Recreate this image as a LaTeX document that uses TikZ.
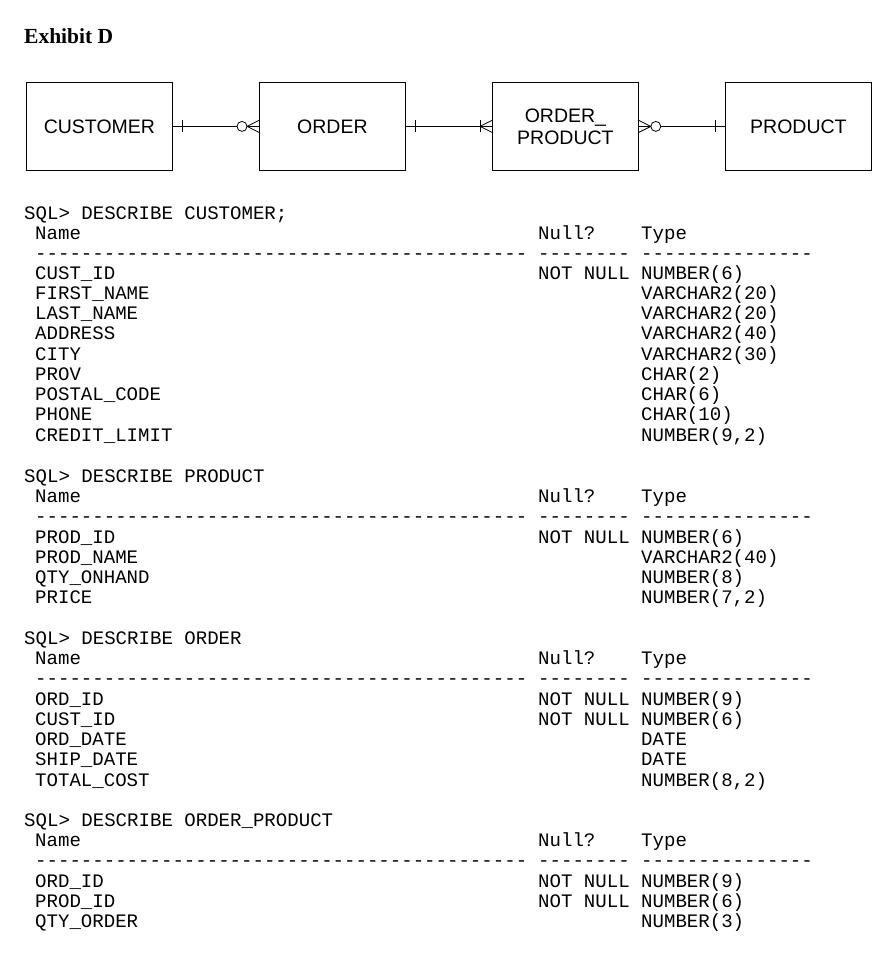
\documentclass[tikz,border=0pt]{standalone}
\usepackage{fontspec}
\setmainfont{Liberation Serif}
\setsansfont{Liberation Sans}
\setmonofont{Liberation Mono}
\begin{document}
\begin{tikzpicture}[x=1pt,y=-1pt,
  ent/.style={draw,line width=0.8pt,minimum width=146pt,minimum height=88pt,anchor=north west,font=\sffamily\fontsize{19.5}{22}\selectfont,align=center},
  txt/.style={anchor=base west,inner sep=0pt,font=\ttfamily\fontsize{19.07}{20}\selectfont},
  rel/.style={line width=0.8pt}]
\useasboundingbox (0,0) rectangle (877,953);
\node[anchor=base west,inner sep=0pt,font=\bfseries\fontsize{21.5}{24}\selectfont] (title) at (24,43) {Exhibit D};
\node[ent] (cu) at (26,82) {CUSTOMER};
\node[ent] (or) at (259,82) {ORDER};
\node[ent] (op) at (492,82) {ORDER\_\\PRODUCT};
\node[ent] (pr) at (725,82) {PRODUCT};
% CUSTOMER - ORDER
\draw[rel] (cu.east) -- ([xshift=-22pt]or.west);
\draw[rel] ([xshift=10pt,yshift=-6pt]cu.east) -- ([xshift=10pt,yshift=6pt]cu.east);
\draw[rel] ([xshift=-17pt]or.west) circle (5pt);
\draw[rel] ([xshift=-12pt]or.west) -- (or.west);
\draw[rel] ([xshift=-12pt]or.west) -- ([yshift=-6pt]or.west) ([xshift=-12pt]or.west) -- ([yshift=6pt]or.west);
% ORDER - ORDER_PRODUCT
\draw[rel] (or.east) -- (op.west);
\draw[rel] ([xshift=10pt,yshift=-6pt]or.east) -- ([xshift=10pt,yshift=6pt]or.east);
\draw[rel] ([xshift=-12pt,yshift=-6pt]op.west) -- ([xshift=-12pt,yshift=6pt]op.west);
\draw[rel] ([xshift=-12pt]op.west) -- ([yshift=-6pt]op.west) ([xshift=-12pt]op.west) -- ([yshift=6pt]op.west);
% ORDER_PRODUCT - PRODUCT
\draw[rel] ([xshift=22pt]op.east) -- (pr.west);
\draw[rel] (op.east) -- ([xshift=12pt]op.east);
\draw[rel] ([xshift=17pt]op.east) circle (5pt);
\draw[rel] ([xshift=12pt]op.east) -- ([yshift=-6pt]op.east) ([xshift=12pt]op.east) -- ([yshift=6pt]op.east);
\draw[rel] ([xshift=-10pt,yshift=-6pt]pr.west) -- ([xshift=-10pt,yshift=6pt]pr.west);
% text blocks
\def\hdr#1#2{%
  \node[txt] at (24,#1) {SQL> DESCRIBE #2};
  \node[txt] at (35,#1+20.25) {Name};
  \node[txt] at (538,#1+20.25) {Null?};
  \node[txt] at (641,#1+20.25) {Type};
  \node[txt] at (35,#1+40.5) {-------------------------------------------};
  \node[txt] at (538,#1+40.5) {--------};
  \node[txt] at (641,#1+40.5) {---------------};}
\def\row#1#2#3#4{%
  \node[txt] at (35,#1) {#2};
  \node[txt] at (538,#1) {#3};
  \node[txt] at (641,#1) {#4};}
\hdr{219}{CUSTOMER;}
\row{279}{CUST\_ID}{NOT NULL}{NUMBER(6)}
\row{299.25}{FIRST\_NAME}{}{VARCHAR2(20)}
\row{319.5}{LAST\_NAME}{}{VARCHAR2(20)}
\row{339.75}{ADDRESS}{}{VARCHAR2(40)}
\row{360}{CITY}{}{VARCHAR2(30)}
\row{380.25}{PROV}{}{CHAR(2)}
\row{400.5}{POSTAL\_CODE}{}{CHAR(6)}
\row{420.75}{PHONE}{}{CHAR(10)}
\row{441}{CREDIT\_LIMIT}{}{NUMBER(9,2)}
\hdr{482}{PRODUCT}
\row{543}{PROD\_ID}{NOT NULL}{NUMBER(6)}
\row{563.25}{PROD\_NAME}{}{VARCHAR2(40)}
\row{583.5}{QTY\_ONHAND}{}{NUMBER(8)}
\row{603.75}{PRICE}{}{NUMBER(7,2)}
\hdr{644}{ORDER}
\row{705}{ORD\_ID}{NOT NULL}{NUMBER(9)}
\row{725.25}{CUST\_ID}{NOT NULL}{NUMBER(6)}
\row{745.5}{ORD\_DATE}{}{DATE}
\row{765.75}{SHIP\_DATE}{}{DATE}
\row{786}{TOTAL\_COST}{}{NUMBER(8,2)}
\hdr{826}{ORDER\_PRODUCT}
\row{887}{ORD\_ID}{NOT NULL}{NUMBER(9)}
\row{907.25}{PROD\_ID}{NOT NULL}{NUMBER(6)}
\row{927.5}{QTY\_ORDER}{}{NUMBER(3)}
\end{tikzpicture}
\end{document}
